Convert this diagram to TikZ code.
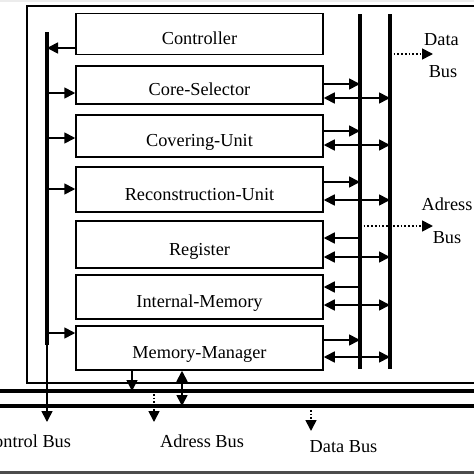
\documentclass[tikz,border=0pt]{standalone}
\usepackage{fontspec}
\setmainfont{Liberation Serif}
\usepackage{tikz}
\usetikzlibrary{arrows.meta}
\tikzset{
	unit/.style={draw, line width=1.5pt, minimum width=247pt, inner sep=0pt, text height=22pt, text depth=1pt, font=\fontsize{18.3}{20}\selectfont}, % text sits a bit low in the boxes
	buslabel/.style={inner sep=0pt, font=\fontsize{18.3}{20}\selectfont},
	bus/.style={line width=4.5pt},
	link/.style={line width=1.7pt, -{Triangle[length=11pt,width=11pt]}},
	duplex/.style={line width=1.7pt, {Triangle[length=11pt,width=11pt]}-{Triangle[length=11pt,width=11pt]}},
	outlink/.style={line width=1.7pt, dotted, -{Triangle[length=11pt,width=11pt]}},
}

\begin{document}
\begin{tikzpicture}[x=1pt,y=-1pt]
			\useasboundingbox (0,0) rectangle (474,474);
			% frame of the picture
			\fill[gray!15] (0,0) rectangle (474,2);
			\fill[gray!60!black] (0,471) rectangle (474,474);
			
			% bus positions
			\coordinate (cbus) at (47,32);
			\coordinate (cbusend) at (47,345);
			\coordinate (cbustip) at (47,422);
			\coordinate (abus) at (360,14);
			\coordinate (abusend) at (360,369);
			\coordinate (dbus) at (390,14);
			\coordinate (dbusend) at (390,369);
			\coordinate (line1) at (0,391);
			\coordinate (line2) at (0,406);
			
			% the units
			\node[unit, minimum height=41pt] (ctrl) at (199.5,33.8) {Controller};
			\node[unit, minimum height=38pt] (core) at (199.5,85) {Core-Selector};
			\node[unit, minimum height=42pt] (cover) at (199.5,136) {Covering-Unit};
			\node[unit, minimum height=45pt] (recon) at (199.5,189.5) {Reconstruction-Unit};
			\node[unit, minimum height=47pt] (reg) at (199.5,244.5) {Register};
			\node[unit, minimum height=44pt] (imem) at (199.5,297) {Internal-Memory};
			\node[unit, minimum height=44pt] (mm) at (199.5,348) {Memory-Manager};
			
			% outer box
			\draw[line width=1.8pt] (480,6) -| (27,383) -- (480,383);
			
			% control bus links
			\draw[link] (ctrl.west |- 0,48) -- (cbus |- 0,48);
			\draw[link] (cbus |- 0,93) -- (core.west |- 0,93);
			\draw[link] (cbus |- 0,138) -- (cover.west |- 0,138);
			\draw[link] (cbus |- 0,189) -- (recon.west |- 0,189);
			\draw[link] (cbus |- 0,333) -- (mm.west |- 0,333);
			
			% adress and data bus links
			\draw[link] (core.east |- 0,84) -- (abus |- 0,84);
			\draw[duplex] (core.east |- 0,98) -- (dbus |- 0,98);
			\draw[link] (cover.east |- 0,131) -- (abus |- 0,131);
			\draw[duplex] (cover.east |- 0,145) -- (dbus |- 0,145);
			\draw[link] (recon.east |- 0,182) -- (abus |- 0,182);
			\draw[duplex] (recon.east |- 0,200) -- (dbus |- 0,200);
			\draw[link] (abus |- 0,238) -- (reg.east |- 0,238);
			\draw[duplex] (reg.east |- 0,257) -- (dbus |- 0,257);
			\draw[link] (abus |- 0,287) -- (imem.east |- 0,287);
			\draw[duplex] (imem.east |- 0,305) -- (dbus |- 0,305);
			\draw[link] (mm.east |- 0,340) -- (abus |- 0,340);
			\draw[duplex] (mm.east |- 0,357) -- (dbus |- 0,357);
			
			% the buses
			\draw[bus] (cbus) -- (cbusend);
			\draw[link] (cbusend) -- (cbustip);
			\draw[bus] (abus) -- (abusend);
			\draw[bus] (dbus) -- (dbusend);
			
			% outputs to the right
			\coordinate (dataout) at (433,54);
			\coordinate (adrout) at (433,226);
			\draw[outlink] (dbus |- dataout) -- (dataout);
			\draw[outlink] (abus |- adrout) -- (adrout);
			\node[buslabel] (datatop) at (441.5,40) {Data};
			\node[buslabel] (databot) at (443,72) {Bus};
			\node[buslabel] (adrtop) at (447,204) {Adress};
			\node[buslabel] (adrbot) at (447,238) {Bus};
			
			% system buses at the bottom
			\draw[line width=3.5pt] (-5,391) -- (480,391);
			\draw[line width=3.5pt] (-5,406) -- (480,406);
			\coordinate (mmout) at ([xshift=-67.5pt]mm.south);
			\coordinate (mmio) at ([xshift=-17.5pt]mm.south);
			\draw[link] (mmout) -- (mmout |- line1);
			\draw[duplex] (mmio) -- (mmio |- line2);
			\coordinate (adrdown) at (154,422);
			\coordinate (datadown) at (311,431);
			\draw[outlink] (adrdown |- 0,394) -- (adrdown);
			\draw[outlink] (datadown |- 0,410) -- (datadown);
			
			% bus names
			\node[buslabel] (ctrlname) at (26.5,441) {Control Bus};
			\node[buslabel] (adrname) at (202,441) {Adress Bus};
			\node[buslabel] (dataname) at (343.5,447) {Data Bus};
			
			\end{tikzpicture}
\end{document}
